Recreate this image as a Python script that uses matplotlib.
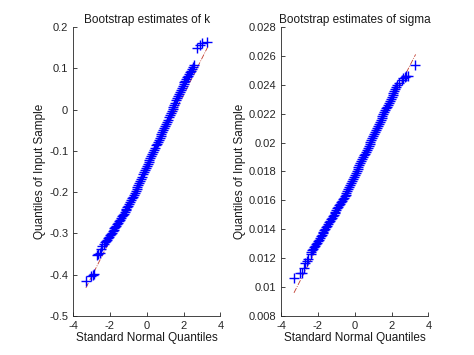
import numpy as np
import matplotlib
matplotlib.use("Agg")
import matplotlib.pyplot as plt
from matplotlib.ticker import FuncFormatter

plt.rcParams['font.family'] = ['Liberation Sans', 'DejaVu Sans']
plt.rcParams['axes.unicode_minus'] = False

# --- bootstrap estimates of k: (normal quantile, sample quantile)
k_x = [-3.29, -3.05, -2.92, -2.85, -2.72, -2.62, -2.55, -2.47, -2.40,
       -2.30, -2.25, -2.20, -2.15, -2.10, -2.05, -2.00, -1.95, -1.90, -1.85,
       -1.80, -1.75, -1.70, -1.65, -1.60, -1.55, -1.50, -1.45, -1.40, -1.35,
       -1.30, -1.25, -1.20, -1.15, -1.10, -1.05, -1.00, -0.95, -0.90, -0.85,
       -0.80, -0.75, -0.70, -0.65, -0.60, -0.55, -0.50, -0.45, -0.40, -0.35,
       -0.30, -0.25, -0.20, -0.15, -0.10, -0.05, 0.00, 0.05, 0.10, 0.15,
       0.20, 0.25, 0.30, 0.35, 0.40, 0.45, 0.50, 0.55, 0.60, 0.65,
       0.70, 0.75, 0.80, 0.85, 0.90, 0.95, 1.00, 1.05, 1.10, 1.15,
       1.20, 1.25, 1.30, 1.35, 1.40, 1.45, 1.50, 1.55, 1.60, 1.65,
       1.70, 1.75, 1.80, 1.85, 1.90, 1.95, 2.00, 2.05, 2.10, 2.15,
       2.20, 2.25, 2.30, 2.35, 2.40, 2.45, 2.50, 2.58,
       2.75, 2.88, 3.02, 3.29]
k_y = [-0.415, -0.403, -0.401, -0.399, -0.352, -0.349, -0.347, -0.338, -0.330,
       -0.325, -0.322, -0.318, -0.315, -0.312, -0.309, -0.305, -0.302, -0.298, -0.295,
       -0.291, -0.288, -0.284, -0.281, -0.277, -0.274, -0.270, -0.267, -0.263, -0.259,
       -0.255, -0.252, -0.248, -0.244, -0.240, -0.237, -0.233, -0.229, -0.224, -0.220,
       -0.215, -0.211, -0.206, -0.202, -0.197, -0.193, -0.188, -0.183, -0.178, -0.173,
       -0.168, -0.163, -0.157, -0.152, -0.147, -0.142, -0.137, -0.132, -0.127, -0.122,
       -0.117, -0.112, -0.107, -0.102, -0.097, -0.092, -0.087, -0.083, -0.078, -0.073,
       -0.068, -0.064, -0.059, -0.054, -0.049, -0.045, -0.040, -0.035, -0.030, -0.025,
       -0.019, -0.014, -0.009, -0.004, 0.002, 0.007, 0.012, 0.017, 0.022, 0.027,
       0.032, 0.037, 0.042, 0.047, 0.052, 0.057, 0.062, 0.066, 0.070, 0.074,
       0.078, 0.082, 0.086, 0.090, 0.094, 0.098, 0.102, 0.107,
       0.148, 0.156, 0.160, 0.164]
k_line_x = [-3.30, 3.35]
k_line_y = [-0.432, 0.155]

# --- bootstrap estimates of sigma
s_x = [-3.29, -2.97, -2.88, -2.78, -2.70, -2.60, -2.52,
       -2.40, -2.35, -2.30, -2.25, -2.20, -2.15, -2.10, -2.05, -2.00, -1.95,
       -1.90, -1.85, -1.80, -1.75, -1.70, -1.65, -1.60, -1.55, -1.50, -1.45,
       -1.40, -1.35, -1.30, -1.25, -1.20, -1.15, -1.10, -1.05, -1.00, -0.95,
       -0.90, -0.85, -0.80, -0.75, -0.70, -0.65, -0.60, -0.55, -0.50, -0.45,
       -0.40, -0.35, -0.30, -0.25, -0.20, -0.15, -0.10, -0.05, 0.00, 0.05,
       0.10, 0.15, 0.20, 0.25, 0.30, 0.35, 0.40, 0.45, 0.50, 0.55,
       0.60, 0.65, 0.70, 0.75, 0.80, 0.85, 0.90, 0.95, 1.00, 1.05,
       1.10, 1.15, 1.20, 1.25, 1.30, 1.35, 1.40, 1.45, 1.50, 1.55,
       1.60, 1.65, 1.70, 1.75, 1.80, 1.85, 1.90, 1.95, 2.00, 2.05,
       2.10, 2.15, 2.20, 2.25, 2.30,
       2.40, 2.54, 2.62, 2.72, 2.80, 2.90, 3.29]
s_y = [0.01065, 0.01095, 0.01100, 0.01135, 0.01164, 0.01180, 0.01195,
       0.01232, 0.01243, 0.01254, 0.01264, 0.01275, 0.01286, 0.01297, 0.01307, 0.01318, 0.01329,
       0.01340, 0.01350, 0.01361, 0.01372, 0.01383, 0.01393, 0.01404, 0.01415, 0.01426, 0.01436,
       0.01447, 0.01458, 0.01469, 0.01479, 0.01490, 0.01501, 0.01512, 0.01522, 0.01533, 0.01544,
       0.01555, 0.01565, 0.01576, 0.01587, 0.01598, 0.01608, 0.01619, 0.01630, 0.01640, 0.01654,
       0.01667, 0.01681, 0.01694, 0.01708, 0.01721, 0.01735, 0.01748, 0.01762, 0.01776, 0.01789,
       0.01803, 0.01816, 0.01830, 0.01843, 0.01857, 0.01870, 0.01884, 0.01897, 0.01911, 0.01924,
       0.01938, 0.01951, 0.01965, 0.01978, 0.01992, 0.02005, 0.02019, 0.02033, 0.02047, 0.02060,
       0.02074, 0.02087, 0.02101, 0.02114, 0.02128, 0.02141, 0.02155, 0.02168, 0.02182, 0.02195,
       0.02209, 0.02222, 0.02236, 0.02249, 0.02263, 0.02276, 0.02290, 0.02304, 0.02318, 0.02331,
       0.02345, 0.02358, 0.02372, 0.02385, 0.02399,
       0.02415, 0.02433, 0.02445, 0.02452, 0.02458, 0.02462, 0.02537]
s_line_x = [-3.30, 3.30]
s_line_y = [0.0096, 0.0261]

panels = [
    ("Bootstrap estimates of k", k_x, k_y, k_line_x, k_line_y, (-0.5, 0.2), np.arange(-0.5, 0.21, 0.1)),
    ("Bootstrap estimates of sigma", s_x, s_y, s_line_x, s_line_y, (0.008, 0.028), np.arange(0.008, 0.0281, 0.002)),
]

fig = plt.figure(figsize=(4.74, 3.55), dpi=100)
lefts = [0.154, 0.593]
fmt = FuncFormatter(lambda v, p: "%g" % (round(v, 6) + 0.0))

for left, (title, xs, ys, lx, ly, ylim, yticks) in zip(lefts, panels):
    ax = fig.add_axes([left, 0.110, 0.311, 0.814])
    ax.plot(lx, ly, '-.', color='#c0392b', lw=0.6)
    ax.plot(xs, ys, '+', color='b', ms=7, mew=1.0)
    ax.set_xlim(-4, 4)
    ax.set_ylim(*ylim)
    ax.set_xticks([-4, -2, 0, 2, 4])
    ax.set_yticks(yticks)
    ax.xaxis.set_major_formatter(fmt)
    ax.yaxis.set_major_formatter(fmt)
    for side in ['top', 'right']:
        ax.spines[side].set_visible(False)
    for side in ['left', 'bottom']:
        ax.spines[side].set_color('#262626')
        ax.spines[side].set_linewidth(0.6)
    ax.tick_params(direction='in', length=3, width=0.6, colors='#262626', labelsize=8)
    ax.set_title(title, fontsize=8.5, pad=3, color='#1a1a1a')
    ax.set_xlabel("Standard Normal Quantiles", fontsize=8.5, labelpad=1, color='#1a1a1a')
    ax.set_ylabel("Quantiles of Input Sample", fontsize=8.5, labelpad=2, color='#1a1a1a')

fig.savefig("out.png", dpi=100)
